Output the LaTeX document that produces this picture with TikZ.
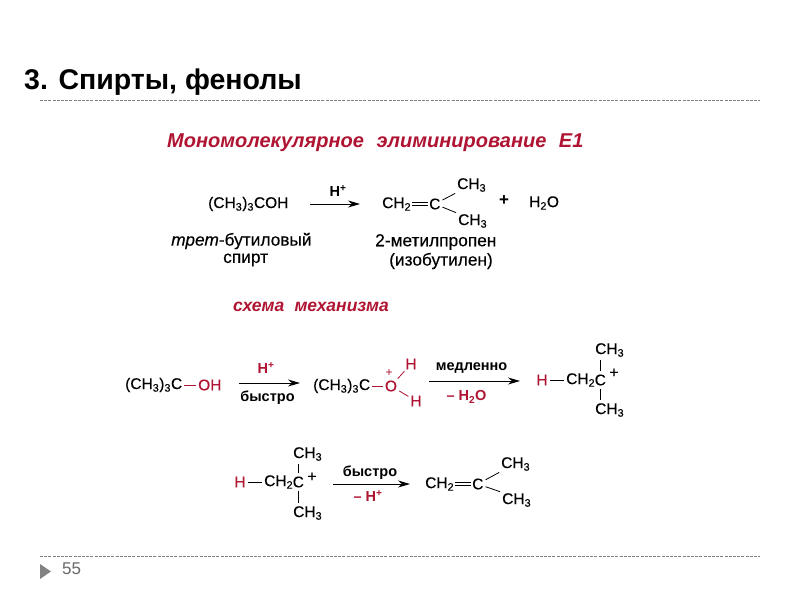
\documentclass[tikz,border=0pt]{standalone}
\usepackage{fontspec}
\setmainfont{Liberation Sans}
\usetikzlibrary{arrows.meta}
\definecolor{chemred}{RGB}{175,20,50}
\definecolor{rulegray}{RGB}{130,130,130}
\newcommand{\low}[1]{\textsubscript{#1}}
\newcommand{\high}[1]{\textsuperscript{#1}}
\tikzset{
  chem/.style={font=\fontsize{15.5}{15}\selectfont\addfontfeatures{FakeBold=0.25},inner sep=1pt,text=black},
  redchem/.style={chem,text=chemred},
  nametext/.style={font=\fontsize{17.3}{17}\selectfont\addfontfeatures{FakeBold=0.25},inner sep=1pt,text=black},
  tagtext/.style={font=\fontsize{14.5}{14}\selectfont\bfseries,inner sep=1pt,text=black},
  redtag/.style={tagtext,text=chemred},
  headline/.style={font=\fontsize{20}{19}\selectfont\bfseries\itshape,inner sep=0pt,text=chemred},
  bond/.style={draw=black,line width=0.8pt,shorten >=1pt,shorten <=1pt},
  stem/.style={draw=black,line width=0.8pt,shorten >=2pt,shorten <=2pt},
  redbond/.style={bond,draw=chemred},
  dbond/.style={draw=black,line width=0.7pt,double,double distance=2.4pt},
  reacts/.style={draw=black,line width=1pt,-{Stealth[length=12pt,width=7pt]}},
  dashrule/.style={draw=rulegray,line width=0.6pt,dash pattern=on 3pt off 1.2pt}
}
\begin{document}
\begin{tikzpicture}[x=1pt,y=-1pt]
  \useasboundingbox (0,0) rectangle (800,600);
  % slide frame
  \node[anchor=west,inner sep=0pt,font=\fontsize{28.5}{28}\selectfont\bfseries] (title) at (24,82) {3. Спирты, фенолы};
  \coordinate (topl) at (40,100);
  \coordinate (topr) at (760,100);
  \coordinate (botl) at (40,556);
  \coordinate (botr) at (760,556);
  \draw[dashrule] (topl) -- (topr);
  \draw[dashrule] (botl) -- (botr);
  \fill[rulegray] (40,564) -- (51,571.5) -- (40,579) -- cycle;
  \node[anchor=west,inner sep=0pt,text=rulegray!80!black,font=\fontsize{17}{17}\selectfont] (page) at (62,569) {55};
  % overall reaction
  \node[headline,anchor=west] (head) at (167,143) {Мономолекулярное\hspace{0.35em} элиминирование\hspace{0.35em} Е1};
  \node[chem,anchor=west] (alc) at (207,204) {(CH\low{3})\low{3}COH};
  \node[chem,anchor=west] (ene) at (381,204) {CH\low{2}};
  \node[chem,anchor=west] (enec) at (428,204) {C};
  \node[chem,anchor=west] (enea) at (456,185) {CH\low{3}};
  \node[chem,anchor=west] (eneb) at (457,221) {CH\low{3}};
  \node[tagtext,font=\fontsize{17}{17}\selectfont\bfseries] (plus) at (504,201) {+};
  \node[chem,anchor=west] (water) at (528,203) {H\low{2}O};
  \coordinate (ra) at (310,204);
  \coordinate (rb) at (360,204);
  \draw[reacts] (ra) -- (rb);
  \node[tagtext] (acid) at (338,191) {H\high{+}};
  \draw[dbond] (ene.east) -- (enec.west);
  \draw[bond] (enec) -- (enea.south west);
  \draw[bond] (enec) -- (eneb.north west);
  \node[nametext,anchor=west] (name1) at (170,241) {\textit{трет}-бутиловый};
  \node[nametext,anchor=west] (name2) at (222,260) {спирт};
  \node[nametext,anchor=west] (name3) at (374,242) {2-метилпропен};
  \node[nametext,anchor=west] (name4) at (388,261) {(изобутилен)};
  % mechanism, first line
  \node[headline,anchor=west,font=\fontsize{17.5}{17}\selectfont\bfseries\itshape] (scheme) at (233,307) {схема\hspace{0.3em} механизма};
  \node[chem,anchor=west] (sta) at (124,385) {(CH\low{3})\low{3}C};
  \node[redchem,anchor=west] (oh) at (197,385) {OH};
  \draw[redbond] (sta) -- (oh);
  \coordinate (rc) at (239,383);
  \coordinate (rd) at (300,383);
  \draw[reacts] (rc) -- (rd);
  \node[redtag] (hp) at (266,368) {H\high{+}};
  \node[tagtext] (fast) at (267.5,398) {быстро};
  \node[chem,anchor=west] (stb) at (312,386) {(CH\low{3})\low{3}C};
  \node[redchem] (ox) at (391,386) {O};
  \node[redchem,font=\fontsize{12}{12}\selectfont] (oplus) at (389,373) {+};
  \node[redchem] (ha) at (411,364) {H};
  \node[redchem] (hb) at (416,401) {H};
  \draw[redbond] (stb) -- (ox);
  \draw[redbond] (ox) -- (ha);
  \draw[redbond] (ox) -- (hb);
  \coordinate (re) at (429,381);
  \coordinate (rf) at (520,381);
  \draw[reacts] (re) -- (rf);
  \node[tagtext] (slow) at (471.5,368) {медленно};
  \node[redtag] (loss) at (466.5,397) {– H\low{2}O};
  \node[redchem] (hc) at (542,380) {H};
  \node[chem,anchor=west] (cha) at (565,380) {CH\low{2}};
  \node[chem,anchor=west,inner xsep=0pt] (ca) at (594.5,380) {C};
  \node[chem] (cplus) at (614,373) {+};
  \node[chem,anchor=west] (up) at (594,350) {CH\low{3}};
  \node[chem,anchor=west] (dn) at (594,410) {CH\low{3}};
  \draw[bond] (hc) -- (cha);
  \draw[stem] (ca.north) -- (ca.north |- up.south);
  \draw[stem] (ca.south) -- (ca.south |- dn.north);
  % mechanism, second line
  \node[redchem] (hd) at (240,482) {H};
  \node[chem,anchor=west] (chb) at (263,482) {CH\low{2}};
  \node[chem,anchor=west,inner xsep=0pt] (cb) at (292.5,482) {C};
  \node[chem] (bplus) at (312,477) {+};
  \node[chem,anchor=west] (upb) at (292,454) {CH\low{3}};
  \node[chem,anchor=west] (dnb) at (292,513) {CH\low{3}};
  \draw[bond] (hd) -- (chb);
  \draw[stem] (cb.north) -- (cb.north |- upb.south);
  \draw[stem] (cb.south) -- (cb.south |- dnb.north);
  \coordinate (rg) at (333,484);
  \coordinate (rh) at (410,484);
  \draw[reacts] (rg) -- (rh);
  \node[tagtext] (fastb) at (370,473) {быстро};
  \node[redtag] (lossb) at (368,496) {– H\high{+}};
  \node[chem,anchor=west] (enf) at (424,484) {CH\low{2}};
  \node[chem,anchor=west] (enfc) at (471,484) {C};
  \node[chem,anchor=west] (enfa) at (500,464) {CH\low{3}};
  \node[chem,anchor=west] (enfb) at (501,500) {CH\low{3}};
  \draw[dbond] (enf.east) -- (enfc.west);
  \draw[bond] (enfc) -- (enfa.south west);
  \draw[bond] (enfc) -- (enfb.north west);
\end{tikzpicture}
\end{document}
